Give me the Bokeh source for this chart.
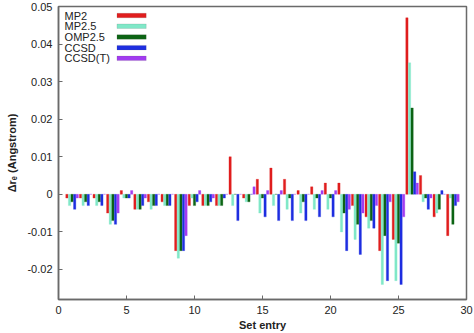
from bokeh.plotting import figure
from bokeh.models import (Range1d, FixedTicker, CustomJSTickFormatter, Label,
                          BoxAnnotation, ColumnDataSource)
from bokeh.transform import dodge
from bokeh.embed import file_html
from bokeh.resources import INLINE

entries = list(range(1, 30))
series_names = ["MP2", "MP2.5", "OMP2.5", "CCSD", "CCSD(T)"]
colors = ["#e01e1e", "#80e8c8", "#0c6414", "#1e2ee0", "#a23cf0"]

mp2 = [-0.001, -0.001, -0.001, -0.005, 0.001, -0.004, -0.002, -0.002, -0.015, -0.003,
       -0.003, -0.003, 0.010, -0.001, 0.004, 0.007, 0.004, 0.001, 0.002, 0.003,
       0.003, -0.003, -0.006, -0.015, -0.012, 0.047, 0.005, -0.006, -0.011]
mp25 = [-0.003, -0.003, -0.003, -0.008, -0.001, -0.004, -0.004, -0.003, -0.017, -0.001,
        -0.003, -0.003, -0.003, -0.002, -0.005, -0.003, -0.004, -0.005, -0.004, -0.004,
        -0.010, -0.012, -0.009, -0.024, -0.023, 0.035, -0.002, -0.005, -0.001]
omp25 = [-0.002, -0.002, -0.002, -0.007, -0.001, -0.004, -0.003, -0.003, -0.015, -0.003,
         -0.003, -0.003, 0.0, -0.002, -0.001, 0.0, -0.001, -0.002, -0.001, -0.001,
         -0.005, -0.008, -0.007, -0.011, -0.013, 0.023, -0.001, -0.004, -0.008]
ccsd = [-0.004, -0.003, -0.003, -0.008, -0.001, -0.003, -0.003, -0.003, -0.015, -0.002,
        -0.002, -0.001, -0.007, 0.0, -0.006, -0.007, -0.007, -0.007, -0.006, -0.006,
        -0.015, -0.016, -0.009, -0.023, -0.024, 0.006, -0.004, 0.001, -0.003]
ccsdt = [-0.001, 0.0, 0.0, -0.005, 0.001, -0.001, 0.0, 0.0, -0.011, 0.001,
         -0.001, 0.0, 0.0, 0.002, 0.001, 0.001, 0.0, 0.0, 0.001, 0.001,
         -0.004, -0.005, -0.003, -0.002, -0.006, 0.003, -0.001, 0.0, -0.002]

y_ticks = [-0.02, -0.01, 0.0, 0.01, 0.02, 0.03, 0.04, 0.05]
x_ticks = [0, 5, 10, 15, 20, 25, 30]

src = ColumnDataSource(dict(x=entries, MP2=mp2, MP25=mp25, OMP25=omp25,
                            CCSD=ccsd, CCSDT=ccsdt))
cols = ["MP2", "MP25", "OMP25", "CCSD", "CCSDT"]

FONT = "Liberation Sans"

p = figure(width=474, height=333, output_backend="svg", toolbar_location=None,
           x_range=Range1d(0, 30), y_range=Range1d(-0.028, 0.05),
           min_border_left=58, min_border_right=8, min_border_top=6,
           min_border_bottom=34)
p.xgrid.visible = False
p.ygrid.visible = False
p.outline_line_color = "#6a6a6a"
p.outline_line_width = 1.5
p.background_fill_color = "white"

step = 0.19
offsets = [-2 * step, -step, 0.0, step, 2 * step]
for col, c, off in zip(cols, colors, offsets):
    p.vbar(x=dodge("x", off), top=col, bottom=0, width=0.17, source=src,
           fill_color=c, line_color=c, line_width=0.3)

p.yaxis.ticker = FixedTicker(ticks=y_ticks)
p.xaxis.ticker = FixedTicker(ticks=x_ticks)
p.yaxis.formatter = CustomJSTickFormatter(code="""
const v = Math.round(tick * 100) / 100;
return v === 0 ? '0' : v.toFixed(2);
""")
for ax in (p.xaxis[0], p.yaxis[0]):
    ax.major_tick_in = 4
    ax.major_tick_out = 0
    ax.minor_tick_in = 0
    ax.minor_tick_out = 0
    ax.axis_line_color = "#6a6a6a"
    ax.axis_line_width = 1.5
    ax.major_tick_line_color = "#6a6a6a"
    ax.major_label_text_font = FONT
    ax.major_label_text_font_size = "11px"
    ax.major_label_text_color = "#222222"
    ax.axis_label_text_font = FONT
    ax.axis_label_text_font_size = "11px"
    ax.axis_label_text_font_style = "bold"
    ax.axis_label_text_color = "#222222"

p.yaxis.axis_label = "\u0394r\u2091 (Angstrom)"
p.xaxis.axis_label = "Set entry"
p.yaxis.axis_label_standoff = 6
p.xaxis.axis_label_standoff = 2
p.xaxis.major_label_standoff = 6
p.yaxis.major_label_standoff = 6

# gnuplot-style key: label on the left, swatch on the right
y_top = 0.0476
row = 0.00285
for i, (name, c) in enumerate(zip(series_names, colors)):
    yy = y_top - i * row
    p.add_layout(Label(x=0.45, y=yy, text=name, text_font=FONT,
                       text_font_size="11px", text_color="#222222",
                       text_baseline="middle", text_align="left"))
    p.add_layout(BoxAnnotation(left=4.3, right=6.45, bottom=yy - 0.0006,
                               top=yy + 0.0006, fill_color=c, fill_alpha=1.0,
                               line_color="#555555", line_width=0.5))

open("out.html", "w").write(file_html(p, INLINE))
